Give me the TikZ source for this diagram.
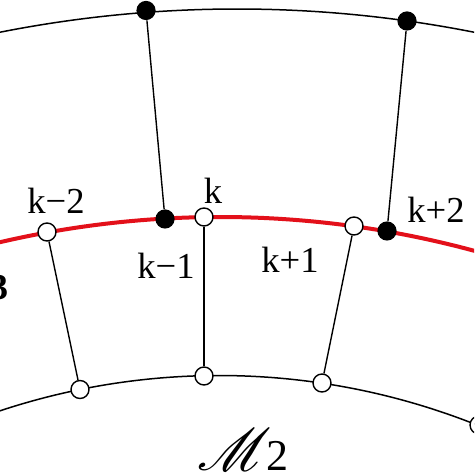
\documentclass[tikz,border=0pt]{standalone}
\usepackage{fontspec}
\setmainfont{Liberation Serif}
\usepackage{mathrsfs}
\usepackage{graphicx}
\usepackage{xcolor}
\usepackage{tikz}
\definecolor{front}{HTML}{E3101A}
\tikzset{
  arcline/.style={line width=0.75pt, draw=black},
  frontline/.style={line width=2pt, draw=front},
  spoke/.style={line width=0.7pt, draw=black},
  opendot/.style={circle, draw=black, line width=0.7pt, fill=white, inner sep=0pt, minimum size=9pt},
  fulldot/.style={circle, fill=black, inner sep=0pt, minimum size=9.6pt},
  lab/.style={font=\fontsize{18.3}{20}\selectfont, inner sep=0pt},
}

\begin{document}
\begin{tikzpicture}[x=0.5pt, y=-0.5pt]
  \useasboundingbox (0,0) rectangle (474,474);
  \clip (0,0) rectangle (474,474);
  \coordinate (Ct) at (237,1230);   % centre of upper line
  \coordinate (Cr) at (220,1190);   % centre of red front
  \coordinate (Cb) at (219,1072.5); % centre of lower line

  \draw[arcline] (Ct) ++(-103:1221) arc[start angle=-103, end angle=-77, radius=1221];
  \draw[frontline] (Cr) ++(-105:973) arc[start angle=-105, end angle=-73, radius=973];
  \draw[arcline] (Cb) ++(-111:697) arc[start angle=-111, end angle=-66, radius=697];

  % upper line
  \node[fulldot] (t1) at (146,10.5) {};
  \node[fulldot] (t2) at (407,21) {};
  % front
  \node[opendot] (m2) at (47,232) {};
  \node[fulldot] (m1) at (165,219) {};
  \node[opendot] (m0) at (204,217) {};
  \node[opendot] (p1) at (354,226) {};
  \node[fulldot] (p2) at (387,231) {};
  % lower line
  \node[opendot] (b2) at (80,389.5) {};
  \node[opendot] (b0) at (204,376) {};
  \node[opendot] (b1) at (322,383) {};
  \node[opendot] (b3) at (479,425) {};

  \draw[spoke] (t1) -- (m1);
  \draw[spoke] (t2) -- (p2);
  \draw[spoke] (m2) -- (b2);
  \draw[spoke] (m0) -- (b0);
  \draw[spoke] (p1) -- (b1);

  \node[lab] (lkm2) at (56,200.5) {k−2};
  \node[lab] (lk) at (213,191) {k};
  \node[lab] (lkp2) at (436,210) {k+2};
  \node[lab] (lkm1) at (166,266) {k−1};
  \node[lab] (lkp1) at (290,260) {k+1};
  \node[lab, font=\fontsize{18.3}{20}\selectfont\bfseries] (l3) at (-1,288) {3};
  \node[inner sep=0pt, anchor=base] (lM) at (243,470)
    {{\fontsize{24}{26}\selectfont\scalebox{1.2}{$\mathscr{M}$}}\kern-3pt{\fontsize{22}{26}\selectfont 2}};
\end{tikzpicture}
\end{document}
